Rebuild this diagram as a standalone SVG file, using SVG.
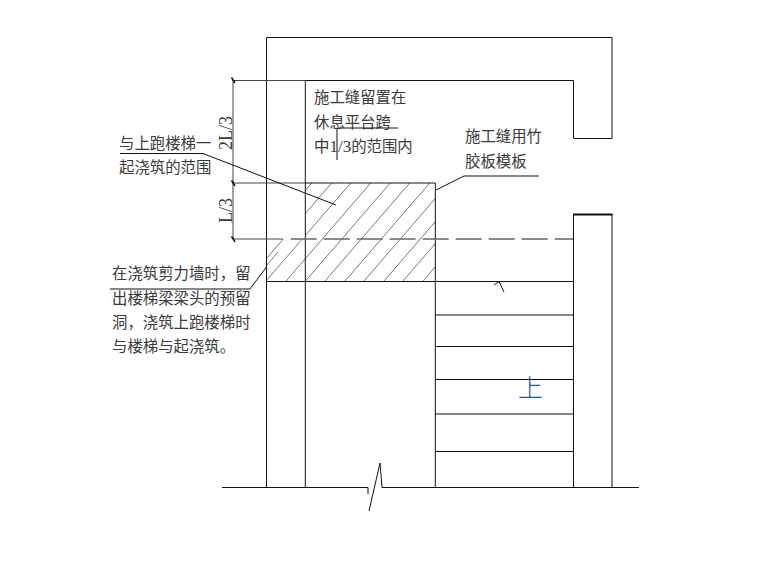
<svg xmlns="http://www.w3.org/2000/svg" width="760" height="570" viewBox="0 0 760 570">
<style>
.l{fill:none;stroke:#111;stroke-width:1}
.g{fill:none;stroke:#444;stroke-width:1}
.h{fill:none;stroke:#555;stroke-width:.8}
.d{fill:none;stroke:#666;stroke-width:1.3;stroke-dasharray:26 7}
.t{font-family:"Noto Sans CJK SC","Liberation Sans",sans-serif;font-size:15.4px;fill:#3a3a3a}
.n{font-family:"Liberation Serif","Noto Sans CJK SC",serif;font-size:18px;fill:#3a3a3a}
</style>
<defs>
<clipPath id="hc"><path d="M305 183H435V281H266.500V239H305Z"/></clipPath>
</defs>
<rect width="760" height="570" fill="#fff"/>
<g id="hatch" clip-path="url(#hc)">
<path class="h" d="M188 281L309 141M208 281L329 141M227 281L348 141M247 281L368 141M266 281L387 141M286 281L407 141M305.500 281L426.500 141M325 281L446 141M345 281L466 141M364 281L485 141M384 281L505 141M403 281L524 141M423 281L544 141M267 265L278 252"/>
</g>
<g id="structure">
<path class="l" d="M266.500 487V37.500H612V138.500H573.500V80.500H305.300V487"/>
<path class="l" d="M305 183H435.300V487"/>
<path class="l" d="M266.500 281.500H573.500"/>
<path class="l" d="M435 315H573.500M435 346.500H573.500M435 379.500H573.500M435 414H573.500M435 451.500H573.500"/>
<path class="l" d="M573.500 487V214.500M612 487V214.500"/>
<path d="M573 214.500H612.500" fill="none" stroke="#111" stroke-width="2"/>
<path class="l" d="M222 487.500H368V494M380 463L369 511M380 463L382 487.500H639"/>
</g>
<g id="dimensions">
<path class="g" d="M233 80.500H305M233 183H305M233 239H283"/>
<path class="g" d="M233 80V239" stroke-width="1.200"/>
<path d="M231.500 77.500L235 83M231.500 180.500L235 186M231.500 236.500L235 242" fill="none" stroke="#111" stroke-width="1.500"/>
<text class="n" transform="translate(232 150) rotate(-90)">2L/3</text>
<text class="n" transform="translate(232 223) rotate(-90)">L/3</text>
</g>
<path id="centerline" class="d" d="M290.700 239H573"/>
<g id="connectors">
<path class="l" d="M120 153.500H203L336 205"/>
<path class="l" d="M110 289H250L266.500 267"/>
<path class="l" d="M539 176H464L436 190"/>
<path class="l" d="M398 128H337V160"/>
<path class="l" d="M494 285L499 281.500L504 292"/>
</g>
<g id="label-joint">
<text class="t" x="314" y="103">施工缝留置在</text>
<text class="t" x="314" y="128">休息平台跨</text>
<text class="t" x="314" y="152">中<tspan font-family="Liberation Serif" font-size="17">1/3</tspan>的范围内</text>
</g>
<g id="label-formwork">
<text class="t" x="465" y="142">施工缝用竹</text>
<text class="t" x="465" y="167">胶板模板</text>
</g>
<g id="label-range">
<text class="t" x="119" y="149">与上跑楼梯一</text>
<text class="t" x="119" y="173">起浇筑的范围</text>
</g>
<g id="label-wall">
<text class="t" x="112" y="279">在浇筑剪力墙时，留</text>
<text class="t" x="112" y="304">出楼梯梁梁头的预留</text>
<text class="t" x="112" y="328">洞，浇筑上跑楼梯时</text>
<text class="t" x="112" y="352">与楼梯与起浇筑。</text>
</g>
<text id="label-up" x="518" y="397" font-family="'Noto Sans CJK SC',sans-serif" font-size="25" font-weight="300" fill="#1c5a96">上</text>
</svg>
